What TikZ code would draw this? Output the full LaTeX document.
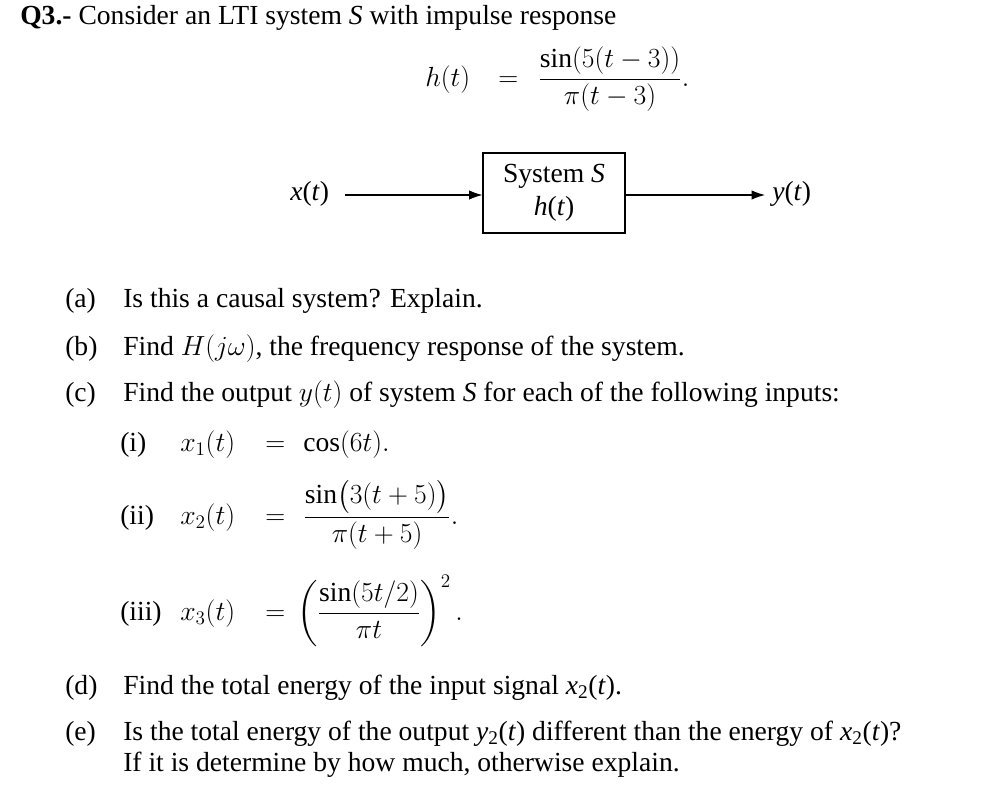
\documentclass[tikz,border=0pt]{standalone}
\usepackage{fontspec}
\usepackage{amsmath}
\setmainfont{Liberation Serif}
\begin{document}
\begin{tikzpicture}[x=0.75pt,y=-0.75pt,
  txt/.style={anchor=base west,inner sep=0pt,font=\fontsize{20.7}{24}\selectfont},
  conn/.style={draw,-{Latex[length=10pt,width=7pt]}}]
\usetikzlibrary{arrows.meta}
\useasboundingbox (0,0) rectangle (1004,810);
\node[txt] (title) at (20,25) {\textbf{Q3.-} Consider an LTI system \textit{S} with impulse response};
\node[txt] (ht) at (425,86) {$h(t)$};
\node[txt] (eq) at (498,86) {$=$};
\node[txt] (frac) at (538,86) {$\dfrac{\sin(5(t-3))}{\pi(t-3)}.$};
\node[draw,thick,minimum width=106.5pt,minimum height=60pt,align=center,inner sep=0pt,font=\fontsize{20.7}{24}\selectfont] (sys) at (554,193) {System \textit{S}\\[1pt] \textit{h}(\textit{t})};
\node[txt] (x) at (290,200) {\textit{x}(\textit{t})};
\node[txt] (y) at (772,200) {\textit{y}(\textit{t})};
\coordinate (xs) at (345,195);
\coordinate (ye) at (765,195);
\draw[conn,thick] (xs) -- (sys.west|-xs);
\draw[conn,thick] (sys.east|-ye) -- (ye);
\node[txt] (a) at (65,307) {(a)};
\node[txt] (at) at (123,307) {Is this a causal system? Explain.};
\node[txt] (b) at (65,355) {(b)};
\node[txt] (bt) at (123,355) {Find $H(j\omega)$, the frequency response of the system.};
\node[txt] (c) at (65,401) {(c)};
\node[txt] (ct) at (123,401) {Find the output $y(t)$ of system \textit{S} for each of the following inputs:};
\node[txt] (i) at (120,451) {(i)};
\node[txt] (ix) at (180,451) {$x_1(t)$};
\node[txt] (ie) at (265,451) {$=$};
\node[txt] (if) at (303,451) {$\cos(6t).$};
\node[txt] (ii) at (120,524) {(ii)};
\node[txt] (iix) at (180,524) {$x_2(t)$};
\node[txt] (iie) at (265,524) {$=$};
\node[txt] (iif) at (303,524) {$\dfrac{\sin\bigl(3(t+5)\bigr)}{\pi(t+5)}.$};
\node[txt] (iii) at (120,620) {(iii)};
\node[txt] (iiix) at (180,620) {$x_3(t)$};
\node[txt] (iiie) at (265,620) {$=$};
\node[txt] (iiif) at (297,620) {$\left(\dfrac{\sin(5t/2)}{\pi t}\right)^{2}.$};
\node[txt] (d) at (65,694) {(d)};
\node[txt] (dt) at (123,694) {Find the total energy of the input signal \textit{x}\textsubscript{2}(\textit{t}).};
\node[txt] (e) at (65,740) {(e)};
\node[txt] (et) at (123,740) {Is the total energy of the output \textit{y}\textsubscript{2}(\textit{t}) different than the energy of \textit{x}\textsubscript{2}(\textit{t})?};
\node[txt] (et2) at (123,771) {If it is determine by how much, otherwise explain.};
\end{tikzpicture}
\end{document}
